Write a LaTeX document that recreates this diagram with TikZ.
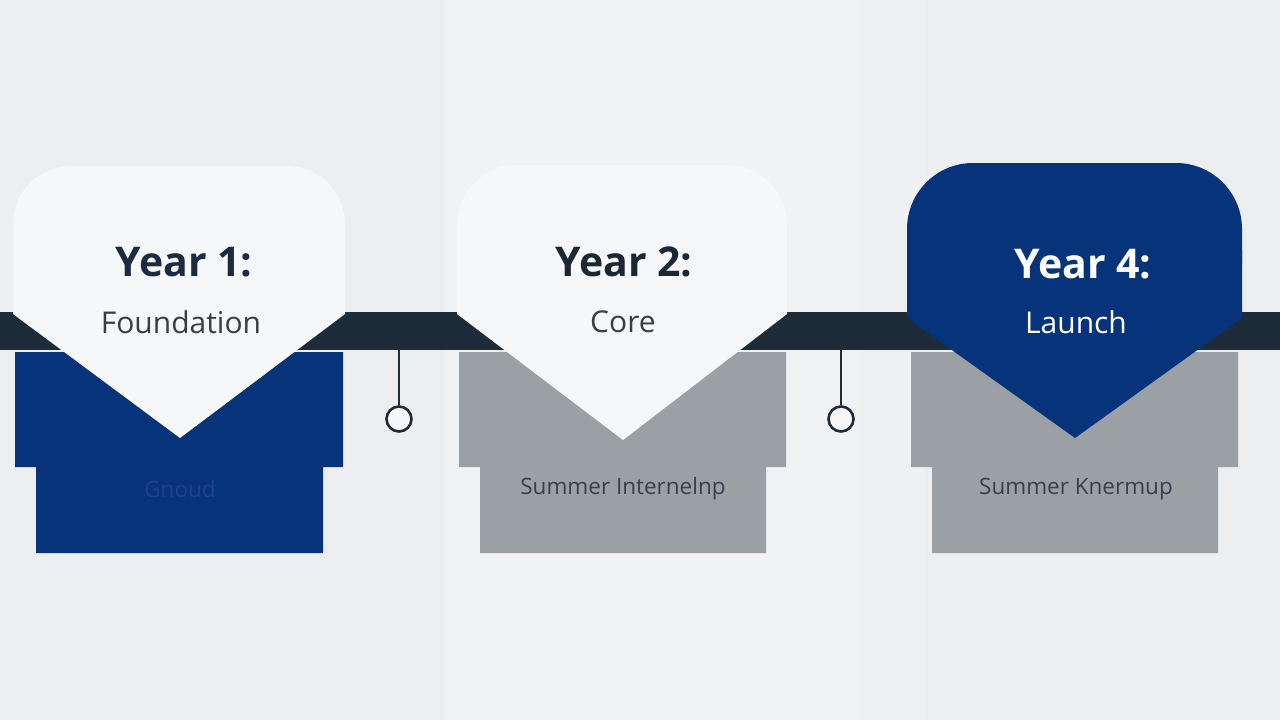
\documentclass[tikz,border=0pt]{standalone}
\usepackage{fontspec}
\setmainfont{Open Sans}
\definecolor{bgc}{HTML}{ECEEF0}
\definecolor{bgl}{HTML}{F1F2F4}
\definecolor{shieldc}{HTML}{F6F7F8}
\definecolor{navy}{HTML}{06337A}
\definecolor{barc}{HTML}{1E2B38}
\definecolor{greyc}{HTML}{9BA0A5}
\definecolor{titlec}{HTML}{1C2B42}
\definecolor{subc}{HTML}{3A3D42}
\definecolor{boxtxt}{HTML}{37414C}
\definecolor{dimblue}{HTML}{1F428A}
\tikzset{
  title/.style={font=\fontsize{41}{48}\selectfont\bfseries, text=titlec, inner sep=0pt, anchor=center},
  subtitle/.style={font=\fontsize{30}{35}\selectfont, text=subc, inner sep=0pt, anchor=center},
  boxlabel/.style={font=\fontsize{22.5}{27}\selectfont, text=boxtxt, inner sep=0pt, anchor=center},
  pendant/.style={circle, draw=barc, line width=2.6pt, fill=shieldc, minimum size=25pt, inner sep=0pt},
  hanger/.style={draw=barc, line width=2.6pt},
}
\begin{document}
\begin{tikzpicture}[x=1pt,y=-1pt]
% background
\fill[bgc] (0,0) rectangle (1280,720);
\fill[bgl] (445,0) rectangle (880,720);
\fill[bgc!50!bgl] (860,0) rectangle (925,720);
\useasboundingbox (0,0) rectangle (1280,720);
% timeline bar
\fill[barc] (0,312) rectangle (1280,350);
% hangers
\coordinate (h1) at (399,350);
\coordinate (h2) at (841,350);
\node[pendant] (p1) at (399,419) {};
\node[pendant] (p2) at (841,419) {};
\draw[hanger] (h1) -- (p1.north);
\draw[hanger] (h2) -- (p2.north);
% lower pedestal boxes
\fill[navy] (15,352) -- (343,352) -- (343,467) -- (323,467) -- (323,553) -- (36,553) -- (36,467) -- (15,467) -- cycle;
\fill[greyc] (459,352) -- (786,352) -- (786,467) -- (766,467) -- (766,553) -- (480,553) -- (480,467) -- (459,467) -- cycle;
\fill[greyc] (911,352) -- (1238,352) -- (1238,467) -- (1218,467) -- (1218,553) -- (932,553) -- (932,467) -- (911,467) -- cycle;
% shields: rounded top + V bottom
\fill[shieldc, rounded corners=58pt] (13,166) rectangle (345,330);
\fill[shieldc] (13,250) -- (345,250) -- (345,314) -- (180,438) -- (13,314) -- cycle;
\fill[shieldc, rounded corners=60pt] (457,165) rectangle (787,330);
\fill[shieldc] (457,250) -- (787,250) -- (787,314) -- (623,440) -- (457,314) -- cycle;
\fill[navy, rounded corners=66pt] (907,163) rectangle (1242,330);
\fill[navy] (907,250) -- (1242,250) -- (1242,318) -- (1075,438) -- (907,318) -- cycle;
% texts
\node[title] (y1) at (184,262) {Year 1:};
\node[subtitle] (s1) at (181,322) {Foundation};
\node[title, text=barc!90!black] (y2) at (624,262) {Year 2:};
\node[subtitle] (s2) at (623,322) {Core};
\node[title, text=white] (y4) at (1083,264) {Year 4:};
\node[subtitle, text=white] (s4) at (1076,322) {Launch};
\node[boxlabel, text=dimblue] (b1) at (180,489) {Gnoud};
\node[boxlabel] (b2) at (623,489) {Summer Internelnp};
\node[boxlabel] (b3) at (1076,489) {Summer Knermup};
\end{tikzpicture}
\end{document}
